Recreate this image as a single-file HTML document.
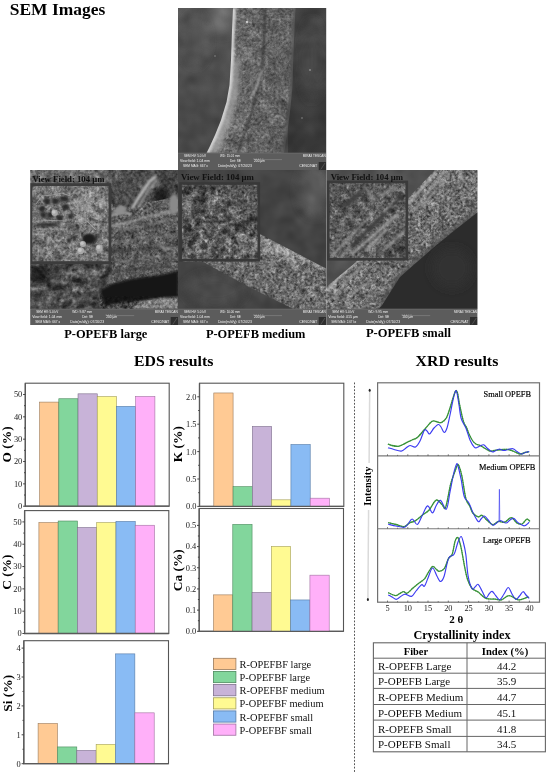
<!DOCTYPE html>
<html><head><meta charset="utf-8"><title>SEM, EDS and XRD results</title>
<style>html,body{margin:0;padding:0;background:#fff;}body{width:550px;height:777px;overflow:hidden;}svg{display:block;font-family:"Liberation Serif", "Times New Roman", serif;}</style>
</head><body>
<svg width="550" height="777" viewBox="0 0 550 777">
<defs></defs>

<text x="9.8" y="15.3" font-size="17.5" font-weight="bold" textLength="95.4" lengthAdjust="spacingAndGlyphs" fill="#000">SEM Images</text>
<defs>
<filter id="grain" x="0" y="0" width="1" height="1" color-interpolation-filters="sRGB">
<feTurbulence type="fractalNoise" baseFrequency="0.33" numOctaves="3" seed="7"/>
<feColorMatrix type="matrix" values="0.33 0.33 0.33 0 0  0.33 0.33 0.33 0 0  0.33 0.33 0.33 0 0  0 0 0 0 1"/>
<feComponentTransfer><feFuncR type="linear" slope="2.0" intercept="-0.5"/><feFuncG type="linear" slope="2.0" intercept="-0.5"/><feFuncB type="linear" slope="2.0" intercept="-0.5"/></feComponentTransfer>
</filter>
<filter id="grain2" x="0" y="0" width="1" height="1" color-interpolation-filters="sRGB">
<feTurbulence type="fractalNoise" baseFrequency="0.38" numOctaves="3" seed="11"/>
<feColorMatrix type="matrix" values="0.33 0.33 0.33 0 0  0.33 0.33 0.33 0 0  0.33 0.33 0.33 0 0  0 0 0 0 1"/>
<feComponentTransfer><feFuncR type="linear" slope="2.2" intercept="-0.6"/><feFuncG type="linear" slope="2.2" intercept="-0.6"/><feFuncB type="linear" slope="2.2" intercept="-0.6"/></feComponentTransfer>
</filter>
<filter id="mottle" x="0" y="0" width="1" height="1" color-interpolation-filters="sRGB">
<feTurbulence type="fractalNoise" baseFrequency="0.13" numOctaves="3" seed="21"/>
<feColorMatrix type="matrix" values="0.33 0.33 0.33 0 0  0.33 0.33 0.33 0 0  0.33 0.33 0.33 0 0  0 0 0 0 1"/>
<feComponentTransfer><feFuncR type="linear" slope="2.6" intercept="-0.8"/><feFuncG type="linear" slope="2.6" intercept="-0.8"/><feFuncB type="linear" slope="2.6" intercept="-0.8"/></feComponentTransfer>
</filter>
<filter id="smooth" x="0" y="0" width="1" height="1" color-interpolation-filters="sRGB">
<feTurbulence type="fractalNoise" baseFrequency="0.06" numOctaves="2" seed="3"/>
<feColorMatrix type="matrix" values="0.33 0.33 0.33 0 0  0.33 0.33 0.33 0 0  0.33 0.33 0.33 0 0  0 0 0 0 1"/>
</filter>
<filter id="blur1" x="-20%" y="-20%" width="140%" height="140%"><feGaussianBlur stdDeviation="1.0"/></filter>
<filter id="blur2" x="-30%" y="-30%" width="160%" height="160%"><feGaussianBlur stdDeviation="2.5"/></filter>
<filter id="blur4" x="-50%" y="-50%" width="200%" height="200%"><feGaussianBlur stdDeviation="5"/></filter>
<clipPath id="cTop"><rect x="178" y="8" width="148.2" height="162"/></clipPath>
<clipPath id="cL"><rect x="30.2" y="170" width="147.8" height="155"/></clipPath>
<clipPath id="cM"><rect x="178" y="170" width="148.2" height="155"/></clipPath>
<clipPath id="cR"><rect x="326.2" y="170" width="151.3" height="155"/></clipPath>
<clipPath id="cTopFib"><path d="M233,8 L232,30 L231,60 L229.5,85 L226.5,102 L221,120 L215,135 L210,146 L206.5,153 L284,153 L287,135 L290,112 L292.4,88 L294,40 L295.5,8 Z"/></clipPath>
<clipPath id="cLBand"><path d="M111,204 L128,207 L140,204 L160,200 L178,196 L178,274 L160,276 L132,278 L111,284 Z"/></clipPath>
<clipPath id="cLLow"><rect x="30" y="262" width="82" height="47"/></clipPath>
<clipPath id="cLIn"><rect x="30.9" y="184.6" width="79" height="78"/></clipPath>
<clipPath id="cMIn"><rect x="180.6" y="183.5" width="78.2" height="76.8"/></clipPath>
<clipPath id="cRIn"><rect x="328.2" y="181.9" width="78.6" height="77.4"/></clipPath>
<clipPath id="cMBand"><path d="M260.9,234.4 L326,268.5 L326,309 L293.6,309.3 L250,287.5 L202.7,262 L180,262 L180,230 Z"/></clipPath>
<clipPath id="cRBand"><path d="M434.9,170 L478,170 L478,212 L455,230 L433,248 L400,277 L381.6,306 L378,309 L326,309 L326,287 L355.5,262.5 L407.3,199 Z"/></clipPath>
<linearGradient id="gTopBgL" x1="0" y1="0" x2="0" y2="1"><stop offset="0" stop-color="#535353"/><stop offset="0.6" stop-color="#4a4a4a"/><stop offset="1" stop-color="#444"/></linearGradient>
<linearGradient id="gTopBgR" x1="0" y1="0" x2="0" y2="1"><stop offset="0" stop-color="#424242"/><stop offset="1" stop-color="#363636"/></linearGradient>
<linearGradient id="gFib" x1="0" y1="0" x2="1" y2="0"><stop offset="0" stop-color="#808080"/><stop offset="0.3" stop-color="#6c6c6c"/><stop offset="1" stop-color="#5e5e5e"/></linearGradient>
<linearGradient id="gRBand" x1="0" y1="0" x2="1" y2="1"><stop offset="0" stop-color="#7c7c7c"/><stop offset="1" stop-color="#666"/></linearGradient>
</defs>
<g clip-path="url(#cTop)">
<rect x="178" y="8" width="148.2" height="162" fill="url(#gTopBgL)"/>
<rect x="288" y="8" width="40" height="162" fill="url(#gTopBgR)"/>
<ellipse cx="222" cy="16" rx="12" ry="18" fill="#6a6a6a" filter="url(#blur4)"/>
<ellipse cx="195" cy="40" rx="12" ry="25" fill="#575757" filter="url(#blur4)"/>
<ellipse cx="312" cy="60" rx="10" ry="40" fill="#474747" filter="url(#blur4)"/>
<g clip-path="url(#cTopFib)">
<path d="M233,8 L232,30 L231,60 L229.5,85 L226.5,102 L221,120 L215,135 L210,146 L206.5,153 L284,153 L287,135 L290,112 L292.4,88 L294,40 L295.5,8 Z" fill="url(#gFib)"/>
<rect x="178" y="8" width="148.2" height="145" filter="url(#grain2)" opacity="0.35" style="mix-blend-mode:overlay"/>
<rect x="178" y="8" width="148.2" height="145" filter="url(#mottle)" opacity="0.18" style="mix-blend-mode:overlay"/>
<path d="M237,60 L235,90 L231,108 L225,124 L219,140 L213,153" fill="none" stroke="#9c9c9c" stroke-width="7" filter="url(#blur2)"/>
<path d="M233,8 L232,30 L231,60 L229.5,85 L226.5,102 L221,120 L215,135 L210,146 L206.5,153" fill="none" stroke="#cfcfcf" stroke-width="6" filter="url(#blur1)"/>
<path d="M284,153 L287,135 L290,112 L292.4,88 L294,40 L295.5,8" fill="none" stroke="#555" stroke-width="5" filter="url(#blur1)"/>
<path d="M265,8 L264,40 L262,66 L259,86 L255,100 L250,118 L244,135 L238,152" fill="none" stroke="#2e2e2e" stroke-width="1.6" filter="url(#blur1)"/>
<path d="M262,70 L257,86 L252,96" fill="none" stroke="#b4b4b4" stroke-width="1.6" filter="url(#blur1)"/>
<circle cx="247" cy="22" r="1.3" fill="#c8c8c8"/>
</g>
<rect x="178" y="8" width="148.2" height="145" filter="url(#smooth)" opacity="0.35" style="mix-blend-mode:overlay"/>
<circle cx="215" cy="56" r="0.8" fill="#888"/>
<circle cx="310" cy="70" r="1.0" fill="#888"/>
<circle cx="302" cy="118" r="0.8" fill="#888"/>
<rect x="178" y="152.8" width="148.2" height="17.2" fill="#5c5c5c"/>
<rect x="178" y="152.8" width="148.2" height="0.7" fill="#6c6c6c"/>
<rect x="318.7" y="162.0" width="7.5" height="8" fill="#2e2e2e"/>
<line x1="320.7" y1="169.5" x2="325.0" y2="163.0" stroke="#777" stroke-width="0.5"/>
<text x="184.0" y="157.1" font-size="3.4" fill="#f0f0f0" font-family="Liberation Sans, sans-serif" textLength="22" lengthAdjust="spacingAndGlyphs">SEM HV: 5.0 kV</text>
<text x="220.0" y="157.1" font-size="3.4" fill="#f0f0f0" font-family="Liberation Sans, sans-serif" textLength="20" lengthAdjust="spacingAndGlyphs">WD: 15.01 mm</text>
<text x="325.7" y="157.1" font-size="3.4" fill="#f0f0f0" font-family="Liberation Sans, sans-serif" text-anchor="end" textLength="23" lengthAdjust="spacingAndGlyphs">MIRA3 TESCAN</text>
<text x="180.0" y="162.1" font-size="3.4" fill="#f0f0f0" font-family="Liberation Sans, sans-serif" textLength="30" lengthAdjust="spacingAndGlyphs">View field: 1.04 mm</text>
<text x="230.0" y="162.1" font-size="3.4" fill="#f0f0f0" font-family="Liberation Sans, sans-serif" textLength="11" lengthAdjust="spacingAndGlyphs">Det: SE</text>
<text x="254.0" y="162.1" font-size="3.4" fill="#f0f0f0" font-family="Liberation Sans, sans-serif" textLength="11" lengthAdjust="spacingAndGlyphs">200 μm</text>
<text x="183.0" y="167.1" font-size="3.4" fill="#f0f0f0" font-family="Liberation Sans, sans-serif" textLength="25" lengthAdjust="spacingAndGlyphs">SEM MAG: 667 x</text>
<text x="218.0" y="167.1" font-size="3.4" fill="#f0f0f0" font-family="Liberation Sans, sans-serif" textLength="34" lengthAdjust="spacingAndGlyphs">Date(m/d/y): 07/20/23</text>
<text x="317.2" y="167.1" font-size="3.4" fill="#f0f0f0" font-family="Liberation Sans, sans-serif" text-anchor="end" textLength="18" lengthAdjust="spacingAndGlyphs">CENC/NAT</text>
<line x1="254.0" y1="158.4" x2="254.0" y2="159.60000000000002" stroke="#e0e0e0" stroke-width="0.4"/>
<line x1="256.2" y1="158.4" x2="256.2" y2="159.60000000000002" stroke="#e0e0e0" stroke-width="0.4"/>
<line x1="258.4" y1="158.4" x2="258.4" y2="159.60000000000002" stroke="#e0e0e0" stroke-width="0.4"/>
<line x1="260.6" y1="158.4" x2="260.6" y2="159.60000000000002" stroke="#e0e0e0" stroke-width="0.4"/>
<line x1="262.8" y1="158.4" x2="262.8" y2="159.60000000000002" stroke="#e0e0e0" stroke-width="0.4"/>
<line x1="254" y1="159.60000000000002" x2="282" y2="159.60000000000002" stroke="#bbb" stroke-width="0.3"/>
</g>
<g clip-path="url(#cL)">
<rect x="30.2" y="170" width="148" height="155" fill="#474747"/>
<rect x="30.2" y="170" width="82" height="14" fill="#6a6a6a"/>
<ellipse cx="120" cy="178" rx="12" ry="9" fill="#585858" filter="url(#blur4)"/>
<ellipse cx="162" cy="200" rx="8" ry="12" fill="#1a1a1a" filter="url(#blur2)"/>
<rect x="30.2" y="170" width="148" height="139" filter="url(#grain)" opacity="0.45" style="mix-blend-mode:overlay"/>
<rect x="30.2" y="170" width="148" height="139" filter="url(#mottle)" opacity="0.3" style="mix-blend-mode:overlay"/>
<g clip-path="url(#cLBand)">
<path d="M111,204 L128,207 L140,204 L160,200 L178,196 L178,274 L160,276 L132,278 L111,284 Z" fill="#5a5a5a"/>
<rect x="30" y="170" width="148" height="140" filter="url(#mottle)" opacity="0.3" style="mix-blend-mode:overlay"/>
<rect x="30" y="170" width="148" height="140" filter="url(#grain2)" opacity="0.5" style="mix-blend-mode:overlay"/>
<g filter="url(#blur1)" fill="none" stroke-linecap="round">
<path d="M111,226 L130,222 L150,216 L178,210" stroke="#b0b0b0" stroke-width="1.8"/>
<path d="M111,231 L140,226 L178,219" stroke="#8a8a8a" stroke-width="1.2"/>
<path d="M111,216 L122,212 L130,214" stroke="#a0a0a0" stroke-width="2.5"/>
<path d="M114,243 L150,238 L176,234" stroke="#7c7c7c" stroke-width="1.2"/>
<path d="M112,252 L140,249 L172,246" stroke="#383838" stroke-width="1.5"/>
<path d="M116,262 L150,258 L176,256" stroke="#7a7a7a" stroke-width="1.2"/>
<path d="M160,245 L166,250 L170,248" stroke="#9a9a9a" stroke-width="2"/>
<path d="M112,272 L140,268 L170,266" stroke="#3a3a3a" stroke-width="1.5"/>
</g>
</g>
<g clip-path="url(#cLLow)">
<rect x="30" y="262" width="82" height="48" fill="#474747"/>
<path d="M30,266 L52,266 L46,282 L30,280 Z" fill="#222" filter="url(#blur2)"/>
<path d="M30,286 L100,289 L100,292 L30,290 Z" fill="#6a6a6a" filter="url(#blur1)"/>
<path d="M40,296 L100,300 L100,302 L40,299 Z" fill="#626262" filter="url(#blur1)"/>
<path d="M60,272 L90,268 L108,274 L80,280 Z" fill="#5e5e5e" filter="url(#blur1)"/>
<rect x="30" y="262" width="82" height="48" filter="url(#mottle)" opacity="0.6" style="mix-blend-mode:overlay"/>
<rect x="30" y="262" width="82" height="48" filter="url(#grain)" opacity="0.4" style="mix-blend-mode:overlay"/>
</g>
<g filter="url(#blur1)" fill="none" stroke-linecap="round">
<path d="M133,207 L139,197 L145,188 L150,181 L155,177" stroke="#b8b8b8" stroke-width="3.2"/>
<path d="M139,206 L145,196 L151,187 L157,180" stroke="#a0a0a0" stroke-width="2"/>
<path d="M146,190 L138,184 M150,184 L144,178 M152,188 L160,184 M128,204 L124,196 M134,200 L128,193" stroke="#9a9a9a" stroke-width="1.1"/>
<path d="M114,212 L120,206 L126,208 L122,214 Z" stroke="#8e8e8e" stroke-width="2" fill="#8e8e8e"/>
</g>
<ellipse cx="174" cy="204" rx="5" ry="10" fill="#8a8a8a" filter="url(#blur1)"/>
<path d="M100,290 L112,284 L132,279 L160,275 L178,271 L178,300 L160,299 L140,301 L120,303 L104,306 Z" fill="#141414" filter="url(#blur1)"/>
<path d="M140,302 L160,298 L178,297 L178,309 L132,309 Z" fill="#858585" filter="url(#blur1)"/>
<rect x="100" y="296" width="78" height="13" filter="url(#grain)" opacity="0.5" style="mix-blend-mode:overlay"/>
<g clip-path="url(#cLIn)">
<rect x="30.9" y="184.6" width="79" height="78" fill="#747474"/>
<ellipse cx="90" cy="205" rx="18" ry="14" fill="#8c8c8c" filter="url(#blur4)"/>
<rect x="30.9" y="184.6" width="79" height="78" filter="url(#mottle)" opacity="0.4" style="mix-blend-mode:overlay"/>
<rect x="30.9" y="184.6" width="79" height="78" filter="url(#grain2)" opacity="0.4" style="mix-blend-mode:overlay"/>
<g filter="url(#blur1)">
<ellipse cx="47.1" cy="201.6" rx="3.5" ry="3.5" fill="#2c2c2c"/>
<ellipse cx="55.3" cy="200.9" rx="3.2" ry="3.2" fill="#2c2c2c"/>
<ellipse cx="64.3" cy="198.7" rx="4.5" ry="2.7" fill="#2c2c2c"/>
<ellipse cx="65.8" cy="206.9" rx="3.2" ry="3" fill="#2c2c2c"/>
<ellipse cx="41.9" cy="209.1" rx="3" ry="3" fill="#2c2c2c"/>
<ellipse cx="43.4" cy="215" rx="3" ry="3" fill="#2c2c2c"/>
<ellipse cx="50.9" cy="215" rx="3" ry="3" fill="#2c2c2c"/>
<ellipse cx="59.8" cy="218" rx="3.2" ry="3" fill="#2c2c2c"/>
<ellipse cx="70.3" cy="216.5" rx="2.5" ry="2.5" fill="#2c2c2c"/>
<ellipse cx="48" cy="224.7" rx="11" ry="1.8" fill="#2c2c2c"/>
<ellipse cx="68.8" cy="240.4" rx="2.5" ry="2.5" fill="#2c2c2c"/>
<ellipse cx="74.7" cy="237.4" rx="2" ry="2" fill="#2c2c2c"/>
<ellipse cx="88.9" cy="238.9" rx="6.7" ry="5.4" fill="#1a1a1a"/>
</g>
<path d="M36,204 L42,196 L52,195 L62,193 L70,196 M38,220 L66,221 M36,229 L64,229 M74,213 L88,222 L96,230" fill="none" stroke="#a8a8a8" stroke-width="1" opacity="0.7"/>
<circle cx="54.6" cy="212.8" r="3.2" fill="#a8a8a8"/>
<circle cx="53.800000000000004" cy="212.0" r="1.8" fill="#c4c4c4"/>
<circle cx="82.9" cy="244.1" r="3.0" fill="#a8a8a8"/>
<circle cx="82.10000000000001" cy="243.29999999999998" r="1.7" fill="#c4c4c4"/>
<circle cx="80.7" cy="250.8" r="3.4" fill="#a8a8a8"/>
<circle cx="79.9" cy="250.0" r="1.9" fill="#c4c4c4"/>
<circle cx="99.3" cy="247.9" r="3.4" fill="#a8a8a8"/>
<circle cx="98.5" cy="247.1" r="1.9" fill="#c4c4c4"/>
</g>
<rect x="30.9" y="184.6" width="79" height="78" fill="none" stroke="#3c3c3c" stroke-width="2.8"/>
<rect x="30.2" y="308.8" width="148" height="16.2" fill="#5c5c5c"/>
<rect x="30.2" y="308.8" width="148" height="0.7" fill="#6c6c6c"/>
<rect x="170.7" y="317.0" width="7.5" height="8" fill="#2e2e2e"/>
<line x1="172.7" y1="324.5" x2="177.0" y2="318.0" stroke="#777" stroke-width="0.5"/>
<text x="36.2" y="313.1" font-size="3.4" fill="#f0f0f0" font-family="Liberation Sans, sans-serif" textLength="22" lengthAdjust="spacingAndGlyphs">SEM HV: 5.0 kV</text>
<text x="72.2" y="313.1" font-size="3.4" fill="#f0f0f0" font-family="Liberation Sans, sans-serif" textLength="20" lengthAdjust="spacingAndGlyphs">WD: 9.87 mm</text>
<text x="177.7" y="313.1" font-size="3.4" fill="#f0f0f0" font-family="Liberation Sans, sans-serif" text-anchor="end" textLength="23" lengthAdjust="spacingAndGlyphs">MIRA3 TESCAN</text>
<text x="32.2" y="318.1" font-size="3.4" fill="#f0f0f0" font-family="Liberation Sans, sans-serif" textLength="30" lengthAdjust="spacingAndGlyphs">View field: 1.04 mm</text>
<text x="82.2" y="318.1" font-size="3.4" fill="#f0f0f0" font-family="Liberation Sans, sans-serif" textLength="11" lengthAdjust="spacingAndGlyphs">Det: SE</text>
<text x="106.2" y="318.1" font-size="3.4" fill="#f0f0f0" font-family="Liberation Sans, sans-serif" textLength="11" lengthAdjust="spacingAndGlyphs">200 μm</text>
<text x="35.2" y="323.1" font-size="3.4" fill="#f0f0f0" font-family="Liberation Sans, sans-serif" textLength="25" lengthAdjust="spacingAndGlyphs">SEM MAG: 667 x</text>
<text x="70.2" y="323.1" font-size="3.4" fill="#f0f0f0" font-family="Liberation Sans, sans-serif" textLength="34" lengthAdjust="spacingAndGlyphs">Date(m/d/y): 07/20/23</text>
<text x="169.2" y="323.1" font-size="3.4" fill="#f0f0f0" font-family="Liberation Sans, sans-serif" text-anchor="end" textLength="18" lengthAdjust="spacingAndGlyphs">CENC/NAT</text>
<line x1="106.2" y1="314.40000000000003" x2="106.2" y2="315.6" stroke="#e0e0e0" stroke-width="0.4"/>
<line x1="108.4" y1="314.40000000000003" x2="108.4" y2="315.6" stroke="#e0e0e0" stroke-width="0.4"/>
<line x1="110.6" y1="314.40000000000003" x2="110.6" y2="315.6" stroke="#e0e0e0" stroke-width="0.4"/>
<line x1="112.8" y1="314.40000000000003" x2="112.8" y2="315.6" stroke="#e0e0e0" stroke-width="0.4"/>
<line x1="115.0" y1="314.40000000000003" x2="115.0" y2="315.6" stroke="#e0e0e0" stroke-width="0.4"/>
<line x1="106.2" y1="315.6" x2="134.2" y2="315.6" stroke="#bbb" stroke-width="0.3"/>
</g>
<text x="32.4" y="181.8" font-size="8.2" font-weight="bold" textLength="72" lengthAdjust="spacingAndGlyphs" fill="#111">View Field: 104 μm</text>
<g clip-path="url(#cM)">
<rect x="178" y="170" width="148.2" height="155" fill="#434343"/>
<ellipse cx="315" cy="190" rx="16" ry="26" fill="#5a5a5a" filter="url(#blur4)"/>
<ellipse cx="215" cy="290" rx="30" ry="16" fill="#4a4a4a" filter="url(#blur4)"/>
<rect x="178" y="170" width="148.2" height="140" filter="url(#smooth)" opacity="0.35" style="mix-blend-mode:overlay"/>
<g clip-path="url(#cMBand)">
<path d="M260.9,234.4 L326,268.5 L326,309 L293.6,309.3 L250,287.5 L202.7,262 L180,262 L180,230 Z" fill="#6c6c6c"/>
<path d="M262,236 L300,254 L296,266 L266,252 Z" fill="#9a9a9a" filter="url(#blur2)"/>
<path d="M205,262 L250,286 L294,309 L290,311 L248,290 L203,265 Z" fill="#5c5c5c" filter="url(#blur1)"/>
<path d="M262,236 L326,268 L326,272 L262,240 Z" fill="#959595" filter="url(#blur1)"/>
<rect x="178" y="170" width="148.2" height="140" filter="url(#mottle)" opacity="0.3" style="mix-blend-mode:overlay"/>
<rect x="178" y="170" width="148.2" height="140" filter="url(#grain2)" opacity="0.5" style="mix-blend-mode:overlay"/>
</g>
<g clip-path="url(#cMIn)">
<rect x="180.6" y="183.5" width="78.2" height="76.8" fill="#5a5a5a"/>
<g filter="url(#blur1)">
<ellipse cx="199.7" cy="192.5" rx="2.7" ry="2.2" fill="#404040"/>
<ellipse cx="188.8" cy="186.4" rx="3.1" ry="2.5" fill="#7a7a7a"/>
<ellipse cx="242.0" cy="240.9" rx="2.2" ry="1.7" fill="#2e2e2e"/>
<ellipse cx="209.0" cy="241.9" rx="4.0" ry="3.2" fill="#7a7a7a"/>
<ellipse cx="198.1" cy="252.7" rx="4.0" ry="3.2" fill="#7a7a7a"/>
<ellipse cx="242.0" cy="199.1" rx="2.4" ry="1.9" fill="#7a7a7a"/>
<ellipse cx="188.5" cy="229.2" rx="3.5" ry="2.8" fill="#2e2e2e"/>
<ellipse cx="200.7" cy="203.1" rx="2.3" ry="1.9" fill="#2e2e2e"/>
<ellipse cx="245.0" cy="185.5" rx="2.4" ry="1.9" fill="#7a7a7a"/>
<ellipse cx="245.6" cy="222.1" rx="2.7" ry="2.2" fill="#2e2e2e"/>
<ellipse cx="203.6" cy="218.0" rx="2.2" ry="1.8" fill="#7a7a7a"/>
<ellipse cx="242.9" cy="188.2" rx="1.6" ry="1.3" fill="#7a7a7a"/>
<ellipse cx="220.9" cy="232.3" rx="3.6" ry="2.9" fill="#404040"/>
<ellipse cx="256.8" cy="199.3" rx="2.7" ry="2.2" fill="#404040"/>
<ellipse cx="229.6" cy="217.2" rx="2.1" ry="1.6" fill="#848484"/>
<ellipse cx="238.0" cy="208.4" rx="3.2" ry="2.5" fill="#7a7a7a"/>
<ellipse cx="189.6" cy="189.5" rx="2.2" ry="1.7" fill="#2e2e2e"/>
<ellipse cx="228.2" cy="202.3" rx="2.5" ry="2.0" fill="#404040"/>
<ellipse cx="203.8" cy="186.9" rx="2.6" ry="2.1" fill="#363636"/>
<ellipse cx="249.2" cy="254.7" rx="3.7" ry="3.0" fill="#7a7a7a"/>
<ellipse cx="183.4" cy="206.1" rx="4.4" ry="3.5" fill="#848484"/>
<ellipse cx="246.6" cy="248.5" rx="3.5" ry="2.8" fill="#363636"/>
<ellipse cx="204.0" cy="199.0" rx="2.8" ry="2.3" fill="#404040"/>
<ellipse cx="200.8" cy="228.7" rx="2.0" ry="1.6" fill="#2e2e2e"/>
<ellipse cx="182.7" cy="188.3" rx="2.0" ry="1.6" fill="#7a7a7a"/>
<ellipse cx="256.8" cy="226.7" rx="2.8" ry="2.3" fill="#404040"/>
<ellipse cx="213.8" cy="200.2" rx="1.7" ry="1.3" fill="#363636"/>
<ellipse cx="237.3" cy="228.5" rx="4.4" ry="3.5" fill="#2e2e2e"/>
<ellipse cx="185.1" cy="220.8" rx="2.2" ry="1.8" fill="#363636"/>
<ellipse cx="191.2" cy="223.6" rx="3.8" ry="3.1" fill="#848484"/>
<ellipse cx="230.9" cy="199.6" rx="2.1" ry="1.7" fill="#848484"/>
<ellipse cx="212.8" cy="187.7" rx="2.8" ry="2.2" fill="#404040"/>
<ellipse cx="230.6" cy="216.2" rx="2.1" ry="1.7" fill="#404040"/>
<ellipse cx="184.4" cy="203.6" rx="2.2" ry="1.8" fill="#404040"/>
<ellipse cx="239.9" cy="215.5" rx="2.3" ry="1.8" fill="#7a7a7a"/>
<ellipse cx="185.8" cy="252.7" rx="3.2" ry="2.6" fill="#2e2e2e"/>
<ellipse cx="212.2" cy="250.8" rx="3.5" ry="2.8" fill="#363636"/>
<ellipse cx="219.1" cy="191.8" rx="2.1" ry="1.7" fill="#2e2e2e"/>
<ellipse cx="249.5" cy="252.5" rx="2.5" ry="2.0" fill="#848484"/>
<ellipse cx="242.0" cy="231.9" rx="3.9" ry="3.2" fill="#2e2e2e"/>
<ellipse cx="198.1" cy="243.5" rx="3.9" ry="3.1" fill="#7a7a7a"/>
<ellipse cx="251.2" cy="254.8" rx="1.7" ry="1.4" fill="#7a7a7a"/>
<ellipse cx="254.1" cy="233.8" rx="1.6" ry="1.3" fill="#2e2e2e"/>
<ellipse cx="191.6" cy="255.7" rx="3.5" ry="2.8" fill="#363636"/>
<ellipse cx="247.3" cy="235.2" rx="2.9" ry="2.3" fill="#848484"/>
<ellipse cx="238.0" cy="252.7" rx="2.2" ry="1.7" fill="#363636"/>
<ellipse cx="197.8" cy="196.4" rx="3.3" ry="2.7" fill="#7a7a7a"/>
<ellipse cx="190.7" cy="244.1" rx="3.8" ry="3.1" fill="#404040"/>
<ellipse cx="223.3" cy="249.1" rx="2.1" ry="1.7" fill="#2e2e2e"/>
<ellipse cx="206.8" cy="250.1" rx="3.8" ry="3.1" fill="#848484"/>
<ellipse cx="250.6" cy="217.1" rx="1.7" ry="1.4" fill="#2e2e2e"/>
<ellipse cx="190.5" cy="225.9" rx="2.3" ry="1.8" fill="#404040"/>
<ellipse cx="185.1" cy="190.8" rx="4.1" ry="3.3" fill="#363636"/>
<ellipse cx="204.3" cy="210.3" rx="1.7" ry="1.4" fill="#2e2e2e"/>
<ellipse cx="216.0" cy="200.0" rx="4.4" ry="3.5" fill="#848484"/>
<ellipse cx="199.5" cy="220.5" rx="4.4" ry="3.5" fill="#363636"/>
<ellipse cx="187.8" cy="251.9" rx="3.9" ry="3.1" fill="#7a7a7a"/>
<ellipse cx="220.4" cy="216.7" rx="4.1" ry="3.3" fill="#848484"/>
<ellipse cx="187.0" cy="249.3" rx="2.1" ry="1.7" fill="#7a7a7a"/>
<ellipse cx="251.7" cy="219.9" rx="1.9" ry="1.5" fill="#2e2e2e"/>
<ellipse cx="194.6" cy="248.8" rx="2.0" ry="1.6" fill="#404040"/>
<ellipse cx="206.5" cy="247.8" rx="2.3" ry="1.8" fill="#363636"/>
<ellipse cx="235.3" cy="185.4" rx="2.4" ry="1.9" fill="#2e2e2e"/>
<ellipse cx="190.3" cy="242.4" rx="3.3" ry="2.6" fill="#2e2e2e"/>
<ellipse cx="187.7" cy="202.9" rx="4.0" ry="3.2" fill="#7a7a7a"/>
<ellipse cx="199.2" cy="198.2" rx="4.1" ry="3.3" fill="#363636"/>
<ellipse cx="232.8" cy="229.5" rx="2.4" ry="2.0" fill="#848484"/>
<ellipse cx="240.7" cy="226.5" rx="4.3" ry="3.4" fill="#2e2e2e"/>
<ellipse cx="241.0" cy="229.7" rx="2.8" ry="2.3" fill="#404040"/>
<ellipse cx="200.9" cy="228.6" rx="4.5" ry="3.6" fill="#7a7a7a"/>
<path d="M224,240 L240,232 L256,236 L258,258 L228,258 Z" fill="#6e6e6e"/>
</g>
<rect x="180.6" y="183.5" width="78.2" height="76.8" filter="url(#mottle)" opacity="0.55" style="mix-blend-mode:overlay"/>
<rect x="180.6" y="183.5" width="78.2" height="76.8" filter="url(#grain2)" opacity="0.5" style="mix-blend-mode:overlay"/>
</g>
<rect x="180.6" y="183.5" width="78.2" height="76.8" fill="none" stroke="#383838" stroke-width="2.6"/>
<rect x="178" y="308.8" width="148.2" height="16.2" fill="#5c5c5c"/>
<rect x="178" y="308.8" width="148.2" height="0.7" fill="#6c6c6c"/>
<rect x="318.7" y="317.0" width="7.5" height="8" fill="#2e2e2e"/>
<line x1="320.7" y1="324.5" x2="325.0" y2="318.0" stroke="#777" stroke-width="0.5"/>
<text x="184.0" y="313.1" font-size="3.4" fill="#f0f0f0" font-family="Liberation Sans, sans-serif" textLength="22" lengthAdjust="spacingAndGlyphs">SEM HV: 5.0 kV</text>
<text x="220.0" y="313.1" font-size="3.4" fill="#f0f0f0" font-family="Liberation Sans, sans-serif" textLength="20" lengthAdjust="spacingAndGlyphs">WD: 10.00 mm</text>
<text x="325.7" y="313.1" font-size="3.4" fill="#f0f0f0" font-family="Liberation Sans, sans-serif" text-anchor="end" textLength="23" lengthAdjust="spacingAndGlyphs">MIRA3 TESCAN</text>
<text x="180.0" y="318.1" font-size="3.4" fill="#f0f0f0" font-family="Liberation Sans, sans-serif" textLength="30" lengthAdjust="spacingAndGlyphs">View field: 1.04 mm</text>
<text x="230.0" y="318.1" font-size="3.4" fill="#f0f0f0" font-family="Liberation Sans, sans-serif" textLength="11" lengthAdjust="spacingAndGlyphs">Det: SE</text>
<text x="254.0" y="318.1" font-size="3.4" fill="#f0f0f0" font-family="Liberation Sans, sans-serif" textLength="11" lengthAdjust="spacingAndGlyphs">200 μm</text>
<text x="183.0" y="323.1" font-size="3.4" fill="#f0f0f0" font-family="Liberation Sans, sans-serif" textLength="25" lengthAdjust="spacingAndGlyphs">SEM MAG: 667 x</text>
<text x="218.0" y="323.1" font-size="3.4" fill="#f0f0f0" font-family="Liberation Sans, sans-serif" textLength="34" lengthAdjust="spacingAndGlyphs">Date(m/d/y): 07/20/23</text>
<text x="317.2" y="323.1" font-size="3.4" fill="#f0f0f0" font-family="Liberation Sans, sans-serif" text-anchor="end" textLength="18" lengthAdjust="spacingAndGlyphs">CENC/NAT</text>
<line x1="254.0" y1="314.40000000000003" x2="254.0" y2="315.6" stroke="#e0e0e0" stroke-width="0.4"/>
<line x1="256.2" y1="314.40000000000003" x2="256.2" y2="315.6" stroke="#e0e0e0" stroke-width="0.4"/>
<line x1="258.4" y1="314.40000000000003" x2="258.4" y2="315.6" stroke="#e0e0e0" stroke-width="0.4"/>
<line x1="260.6" y1="314.40000000000003" x2="260.6" y2="315.6" stroke="#e0e0e0" stroke-width="0.4"/>
<line x1="262.8" y1="314.40000000000003" x2="262.8" y2="315.6" stroke="#e0e0e0" stroke-width="0.4"/>
<line x1="254" y1="315.6" x2="282" y2="315.6" stroke="#bbb" stroke-width="0.3"/>
</g>
<text x="181" y="179.5" font-size="8.2" font-weight="bold" textLength="72.8" lengthAdjust="spacingAndGlyphs" fill="#111">View Field: 104 μm</text>
<g clip-path="url(#cR)">
<rect x="326.2" y="170" width="151.3" height="155" fill="#505050"/>
<rect x="326.2" y="170" width="151.3" height="140" filter="url(#smooth)" opacity="0.35" style="mix-blend-mode:overlay"/>
<g clip-path="url(#cRBand)">
<path d="M434.9,170 L478,170 L478,212 L455,230 L433,248 L400,277 L381.6,306 L378,309 L326,309 L326,287 L355.5,262.5 L407.3,199 Z" fill="url(#gRBand)"/>
<rect x="326" y="170" width="152" height="140" filter="url(#mottle)" opacity="0.3" style="mix-blend-mode:overlay"/>
<rect x="326" y="170" width="152" height="140" filter="url(#grain2)" opacity="0.55" style="mix-blend-mode:overlay"/>
<path d="M478,212 L433,248 L400,277 L381,306" fill="none" stroke="#505050" stroke-width="5" filter="url(#blur2)"/>
<g filter="url(#blur1)" fill="none" stroke-linecap="round">
<path d="M436,172 L420,190 L409,203" stroke="#b4b4b4" stroke-width="2.2"/>
<path d="M444,172 L428,192 L414,210" stroke="#a8a8a8" stroke-width="1.5"/>
<path d="M452,170 L436,190 L422,206" stroke="#a0a0a0" stroke-width="1.2"/>
<path d="M460,172 L462,180" stroke="#c0c0c0" stroke-width="2"/>
<path d="M356,262 L340,276 L328,290" stroke="#b8b8b8" stroke-width="2.4"/>
<path d="M362,266 L346,282 L334,298" stroke="#a4a4a4" stroke-width="1.5"/>
<path d="M345,300 L360,288 L372,280" stroke="#a0a0a0" stroke-width="1.2"/>
</g>
</g>
<path d="M478,212 L455,230 L433,248 L400,277 L381.6,306 L378,309 L478,309 Z" fill="#2c2c2c"/>
<ellipse cx="452" cy="268" rx="20" ry="20" fill="#333" filter="url(#blur4)"/>
<g clip-path="url(#cRIn)">
<rect x="328.2" y="181.9" width="78.6" height="77.4" fill="#5e5e5e"/>
<path d="M380,259 L407,232 L407,259 Z" fill="#4a4a4a" filter="url(#blur2)"/>
<ellipse cx="345" cy="200" rx="12" ry="10" fill="#505050" filter="url(#blur4)"/>
<rect x="328.2" y="181.9" width="78.6" height="77.4" filter="url(#mottle)" opacity="0.4" style="mix-blend-mode:overlay"/>
<rect x="328.2" y="181.9" width="78.6" height="77.4" filter="url(#grain2)" opacity="0.45" style="mix-blend-mode:overlay"/>
<g filter="url(#blur1)" fill="none" stroke-linecap="round">
<line x1="332" y1="256" x2="372" y2="214" stroke="#a4a4a4" stroke-width="1.6"/>
<line x1="340" y1="258" x2="392" y2="204" stroke="#9c9c9c" stroke-width="1.4"/>
<line x1="352" y1="254" x2="398" y2="214" stroke="#b0b0b0" stroke-width="1.8"/>
<line x1="362" y1="236" x2="384" y2="214" stroke="#3e3e3e" stroke-width="3.5"/>
<line x1="346" y1="205" x2="360" y2="193" stroke="#404040" stroke-width="4"/>
<line x1="366" y1="250" x2="386" y2="230" stroke="#a8a8a8" stroke-width="2.2"/>
<line x1="384" y1="250" x2="404" y2="232" stroke="#aaaaaa" stroke-width="1.6"/>
<line x1="352" y1="246" x2="360" y2="238" stroke="#383838" stroke-width="3.5"/>
<line x1="364" y1="186" x2="374" y2="200" stroke="#9a9a9a" stroke-width="1.4"/>
<line x1="378" y1="196" x2="396" y2="188" stroke="#9a9a9a" stroke-width="1.4"/>
<line x1="392" y1="206" x2="402" y2="196" stroke="#3c3c3c" stroke-width="3"/>
</g>
</g>
<rect x="328.2" y="181.9" width="78.6" height="77.4" fill="none" stroke="#3a3a3a" stroke-width="2.6"/>
<rect x="326.2" y="308.8" width="151.3" height="16.2" fill="#5c5c5c"/>
<rect x="326.2" y="308.8" width="151.3" height="0.7" fill="#6c6c6c"/>
<rect x="470.0" y="317.0" width="7.5" height="8" fill="#2e2e2e"/>
<line x1="472.0" y1="324.5" x2="476.3" y2="318.0" stroke="#777" stroke-width="0.5"/>
<text x="332.2" y="313.1" font-size="3.4" fill="#f0f0f0" font-family="Liberation Sans, sans-serif" textLength="22" lengthAdjust="spacingAndGlyphs">SEM HV: 5.0 kV</text>
<text x="368.2" y="313.1" font-size="3.4" fill="#f0f0f0" font-family="Liberation Sans, sans-serif" textLength="20" lengthAdjust="spacingAndGlyphs">WD: 9.95 mm</text>
<text x="477.0" y="313.1" font-size="3.4" fill="#f0f0f0" font-family="Liberation Sans, sans-serif" text-anchor="end" textLength="23" lengthAdjust="spacingAndGlyphs">MIRA3 TESCAN</text>
<text x="328.2" y="318.1" font-size="3.4" fill="#f0f0f0" font-family="Liberation Sans, sans-serif" textLength="30" lengthAdjust="spacingAndGlyphs">View field: 415 μm</text>
<text x="378.2" y="318.1" font-size="3.4" fill="#f0f0f0" font-family="Liberation Sans, sans-serif" textLength="11" lengthAdjust="spacingAndGlyphs">Det: SE</text>
<text x="402.2" y="318.1" font-size="3.4" fill="#f0f0f0" font-family="Liberation Sans, sans-serif" textLength="11" lengthAdjust="spacingAndGlyphs">100 μm</text>
<text x="331.2" y="323.1" font-size="3.4" fill="#f0f0f0" font-family="Liberation Sans, sans-serif" textLength="25" lengthAdjust="spacingAndGlyphs">SEM MAG: 2.67 kx</text>
<text x="366.2" y="323.1" font-size="3.4" fill="#f0f0f0" font-family="Liberation Sans, sans-serif" textLength="34" lengthAdjust="spacingAndGlyphs">Date(m/d/y): 07/10/23</text>
<text x="468.5" y="323.1" font-size="3.4" fill="#f0f0f0" font-family="Liberation Sans, sans-serif" text-anchor="end" textLength="18" lengthAdjust="spacingAndGlyphs">CENC/NAT</text>
<line x1="402.2" y1="314.40000000000003" x2="402.2" y2="315.6" stroke="#e0e0e0" stroke-width="0.4"/>
<line x1="404.4" y1="314.40000000000003" x2="404.4" y2="315.6" stroke="#e0e0e0" stroke-width="0.4"/>
<line x1="406.6" y1="314.40000000000003" x2="406.6" y2="315.6" stroke="#e0e0e0" stroke-width="0.4"/>
<line x1="408.8" y1="314.40000000000003" x2="408.8" y2="315.6" stroke="#e0e0e0" stroke-width="0.4"/>
<line x1="411.0" y1="314.40000000000003" x2="411.0" y2="315.6" stroke="#e0e0e0" stroke-width="0.4"/>
<line x1="402.2" y1="315.6" x2="430.2" y2="315.6" stroke="#bbb" stroke-width="0.3"/>
</g>
<text x="330.7" y="179.5" font-size="8.2" font-weight="bold" textLength="72.3" lengthAdjust="spacingAndGlyphs" fill="#111">View Field: 104 μm</text>
<text x="64.2" y="338" font-size="13" font-weight="bold" textLength="83.2" lengthAdjust="spacingAndGlyphs" fill="#000">P-OPEFB large</text>
<text x="205.9" y="337.6" font-size="13" font-weight="bold" textLength="99.5" lengthAdjust="spacingAndGlyphs" fill="#000">P-OPEFB medium</text>
<text x="365.9" y="337.4" font-size="13" font-weight="bold" textLength="85.1" lengthAdjust="spacingAndGlyphs" fill="#000">P-OPEFB small</text>
<text x="134" y="366.2" font-size="15" font-weight="bold" textLength="79.4" lengthAdjust="spacingAndGlyphs" fill="#000">EDS results</text>
<text x="415.6" y="366.2" font-size="15" font-weight="bold" textLength="82.7" lengthAdjust="spacingAndGlyphs" fill="#000">XRD results</text>
<rect x="25.3" y="383.2" width="143.89999999999998" height="123.0" fill="#fff" stroke="#555" stroke-width="1.1"/>
<rect x="39.60" y="402.10" width="19.22" height="104.10" fill="#FFCA94" stroke="#9a7a5a" stroke-width="0.6"/>
<rect x="58.82" y="398.74" width="19.22" height="107.46" fill="#82D69C" stroke="#4c8a5e" stroke-width="0.6"/>
<rect x="78.03" y="393.83" width="19.22" height="112.37" fill="#C8B3D8" stroke="#7d6e8c" stroke-width="0.6"/>
<rect x="97.25" y="396.51" width="19.22" height="109.69" fill="#FFFA92" stroke="#a39e5a" stroke-width="0.6"/>
<rect x="116.47" y="406.34" width="19.22" height="99.86" fill="#89BBF4" stroke="#557aa5" stroke-width="0.6"/>
<rect x="135.68" y="396.51" width="19.22" height="109.69" fill="#FFB0F9" stroke="#a070a0" stroke-width="0.6"/>
<path d="M25.3,383.2 V506.2 H169.2" fill="none" stroke="#5a5a5a" stroke-width="1.3"/>
<line x1="23.1" y1="506.20" x2="25.3" y2="506.20" stroke="#444" stroke-width="1"/>
<text x="22.3" y="509.10" font-size="8.4" text-anchor="end" fill="#1a1a1a">0</text>
<line x1="23.1" y1="483.86" x2="25.3" y2="483.86" stroke="#444" stroke-width="1"/>
<text x="22.3" y="486.76" font-size="8.4" text-anchor="end" fill="#1a1a1a">10</text>
<line x1="23.1" y1="461.52" x2="25.3" y2="461.52" stroke="#444" stroke-width="1"/>
<text x="22.3" y="464.42" font-size="8.4" text-anchor="end" fill="#1a1a1a">20</text>
<line x1="23.1" y1="439.18" x2="25.3" y2="439.18" stroke="#444" stroke-width="1"/>
<text x="22.3" y="442.08" font-size="8.4" text-anchor="end" fill="#1a1a1a">30</text>
<line x1="23.1" y1="416.84" x2="25.3" y2="416.84" stroke="#444" stroke-width="1"/>
<text x="22.3" y="419.74" font-size="8.4" text-anchor="end" fill="#1a1a1a">40</text>
<line x1="23.1" y1="394.50" x2="25.3" y2="394.50" stroke="#444" stroke-width="1"/>
<text x="22.3" y="397.40" font-size="8.4" text-anchor="end" fill="#1a1a1a">50</text>
<line x1="24.0" y1="495.03" x2="25.3" y2="495.03" stroke="#444" stroke-width="1"/>
<line x1="24.0" y1="472.69" x2="25.3" y2="472.69" stroke="#444" stroke-width="1"/>
<line x1="24.0" y1="450.35" x2="25.3" y2="450.35" stroke="#444" stroke-width="1"/>
<line x1="24.0" y1="428.01" x2="25.3" y2="428.01" stroke="#444" stroke-width="1"/>
<line x1="24.0" y1="405.67" x2="25.3" y2="405.67" stroke="#444" stroke-width="1"/>
<text transform="translate(10.5,444.4) rotate(-90)" font-size="13.4" font-weight="bold" text-anchor="middle">O (%)</text>
<rect x="199.5" y="383.2" width="144.3" height="123.19999999999999" fill="#fff" stroke="#555" stroke-width="1.1"/>
<rect x="213.80" y="392.96" width="19.28" height="113.44" fill="#FFCA94" stroke="#9a7a5a" stroke-width="0.6"/>
<rect x="233.08" y="486.67" width="19.28" height="19.73" fill="#82D69C" stroke="#4c8a5e" stroke-width="0.6"/>
<rect x="252.37" y="426.39" width="19.28" height="80.01" fill="#C8B3D8" stroke="#7d6e8c" stroke-width="0.6"/>
<rect x="271.65" y="499.82" width="19.28" height="6.58" fill="#FFFA92" stroke="#a39e5a" stroke-width="0.6"/>
<rect x="290.93" y="444.48" width="19.28" height="61.92" fill="#89BBF4" stroke="#557aa5" stroke-width="0.6"/>
<rect x="310.22" y="498.18" width="19.28" height="8.22" fill="#FFB0F9" stroke="#a070a0" stroke-width="0.6"/>
<path d="M199.5,383.2 V506.4 H343.8" fill="none" stroke="#5a5a5a" stroke-width="1.3"/>
<line x1="197.3" y1="506.40" x2="199.5" y2="506.40" stroke="#444" stroke-width="1"/>
<text x="196.5" y="509.30" font-size="8.4" text-anchor="end" fill="#1a1a1a">0.0</text>
<line x1="197.3" y1="479.00" x2="199.5" y2="479.00" stroke="#444" stroke-width="1"/>
<text x="196.5" y="481.90" font-size="8.4" text-anchor="end" fill="#1a1a1a">0.5</text>
<line x1="197.3" y1="451.60" x2="199.5" y2="451.60" stroke="#444" stroke-width="1"/>
<text x="196.5" y="454.50" font-size="8.4" text-anchor="end" fill="#1a1a1a">1.0</text>
<line x1="197.3" y1="424.20" x2="199.5" y2="424.20" stroke="#444" stroke-width="1"/>
<text x="196.5" y="427.10" font-size="8.4" text-anchor="end" fill="#1a1a1a">1.5</text>
<line x1="197.3" y1="396.80" x2="199.5" y2="396.80" stroke="#444" stroke-width="1"/>
<text x="196.5" y="399.70" font-size="8.4" text-anchor="end" fill="#1a1a1a">2.0</text>
<line x1="198.2" y1="492.70" x2="199.5" y2="492.70" stroke="#444" stroke-width="1"/>
<line x1="198.2" y1="465.30" x2="199.5" y2="465.30" stroke="#444" stroke-width="1"/>
<line x1="198.2" y1="437.90" x2="199.5" y2="437.90" stroke="#444" stroke-width="1"/>
<line x1="198.2" y1="410.50" x2="199.5" y2="410.50" stroke="#444" stroke-width="1"/>
<text transform="translate(181.7,444.2) rotate(-90)" font-size="13.4" font-weight="bold" text-anchor="middle">K (%)</text>
<rect x="24.6" y="510.6" width="144.20000000000002" height="122.89999999999998" fill="#fff" stroke="#555" stroke-width="1.1"/>
<rect x="38.90" y="522.57" width="19.27" height="110.93" fill="#FFCA94" stroke="#9a7a5a" stroke-width="0.6"/>
<rect x="58.17" y="521.01" width="19.27" height="112.49" fill="#82D69C" stroke="#4c8a5e" stroke-width="0.6"/>
<rect x="77.43" y="527.48" width="19.27" height="106.02" fill="#C8B3D8" stroke="#7d6e8c" stroke-width="0.6"/>
<rect x="96.70" y="522.57" width="19.27" height="110.93" fill="#FFFA92" stroke="#a39e5a" stroke-width="0.6"/>
<rect x="115.97" y="521.45" width="19.27" height="112.05" fill="#89BBF4" stroke="#557aa5" stroke-width="0.6"/>
<rect x="135.23" y="525.25" width="19.27" height="108.25" fill="#FFB0F9" stroke="#a070a0" stroke-width="0.6"/>
<path d="M24.6,510.6 V633.5 H168.8" fill="none" stroke="#5a5a5a" stroke-width="1.3"/>
<line x1="22.400000000000002" y1="633.50" x2="24.6" y2="633.50" stroke="#444" stroke-width="1"/>
<text x="21.6" y="636.40" font-size="8.4" text-anchor="end" fill="#1a1a1a">0</text>
<line x1="22.400000000000002" y1="611.18" x2="24.6" y2="611.18" stroke="#444" stroke-width="1"/>
<text x="21.6" y="614.08" font-size="8.4" text-anchor="end" fill="#1a1a1a">10</text>
<line x1="22.400000000000002" y1="588.86" x2="24.6" y2="588.86" stroke="#444" stroke-width="1"/>
<text x="21.6" y="591.76" font-size="8.4" text-anchor="end" fill="#1a1a1a">20</text>
<line x1="22.400000000000002" y1="566.54" x2="24.6" y2="566.54" stroke="#444" stroke-width="1"/>
<text x="21.6" y="569.44" font-size="8.4" text-anchor="end" fill="#1a1a1a">30</text>
<line x1="22.400000000000002" y1="544.22" x2="24.6" y2="544.22" stroke="#444" stroke-width="1"/>
<text x="21.6" y="547.12" font-size="8.4" text-anchor="end" fill="#1a1a1a">40</text>
<line x1="22.400000000000002" y1="521.90" x2="24.6" y2="521.90" stroke="#444" stroke-width="1"/>
<text x="21.6" y="524.80" font-size="8.4" text-anchor="end" fill="#1a1a1a">50</text>
<line x1="23.3" y1="622.34" x2="24.6" y2="622.34" stroke="#444" stroke-width="1"/>
<line x1="23.3" y1="600.02" x2="24.6" y2="600.02" stroke="#444" stroke-width="1"/>
<line x1="23.3" y1="577.70" x2="24.6" y2="577.70" stroke="#444" stroke-width="1"/>
<line x1="23.3" y1="555.38" x2="24.6" y2="555.38" stroke="#444" stroke-width="1"/>
<line x1="23.3" y1="533.06" x2="24.6" y2="533.06" stroke="#444" stroke-width="1"/>
<text transform="translate(11.4,572.2) rotate(-90)" font-size="13.4" font-weight="bold" text-anchor="middle">C (%)</text>
<rect x="199.2" y="508.5" width="144.3" height="122.79999999999995" fill="#fff" stroke="#555" stroke-width="1.1"/>
<rect x="213.50" y="594.87" width="19.28" height="36.43" fill="#FFCA94" stroke="#9a7a5a" stroke-width="0.6"/>
<rect x="232.78" y="524.34" width="19.28" height="106.96" fill="#82D69C" stroke="#4c8a5e" stroke-width="0.6"/>
<rect x="252.07" y="592.54" width="19.28" height="38.76" fill="#C8B3D8" stroke="#7d6e8c" stroke-width="0.6"/>
<rect x="271.35" y="546.37" width="19.28" height="84.93" fill="#FFFA92" stroke="#a39e5a" stroke-width="0.6"/>
<rect x="290.63" y="599.95" width="19.28" height="31.35" fill="#89BBF4" stroke="#557aa5" stroke-width="0.6"/>
<rect x="309.92" y="575.17" width="19.28" height="56.13" fill="#FFB0F9" stroke="#a070a0" stroke-width="0.6"/>
<path d="M199.2,508.5 V631.3 H343.5" fill="none" stroke="#5a5a5a" stroke-width="1.3"/>
<line x1="197.0" y1="631.30" x2="199.2" y2="631.30" stroke="#444" stroke-width="1"/>
<text x="196.2" y="634.20" font-size="8.4" text-anchor="end" fill="#1a1a1a">0.0</text>
<line x1="197.0" y1="610.12" x2="199.2" y2="610.12" stroke="#444" stroke-width="1"/>
<text x="196.2" y="613.02" font-size="8.4" text-anchor="end" fill="#1a1a1a">0.1</text>
<line x1="197.0" y1="588.94" x2="199.2" y2="588.94" stroke="#444" stroke-width="1"/>
<text x="196.2" y="591.84" font-size="8.4" text-anchor="end" fill="#1a1a1a">0.2</text>
<line x1="197.0" y1="567.76" x2="199.2" y2="567.76" stroke="#444" stroke-width="1"/>
<text x="196.2" y="570.66" font-size="8.4" text-anchor="end" fill="#1a1a1a">0.3</text>
<line x1="197.0" y1="546.58" x2="199.2" y2="546.58" stroke="#444" stroke-width="1"/>
<text x="196.2" y="549.48" font-size="8.4" text-anchor="end" fill="#1a1a1a">0.4</text>
<line x1="197.0" y1="525.40" x2="199.2" y2="525.40" stroke="#444" stroke-width="1"/>
<text x="196.2" y="528.30" font-size="8.4" text-anchor="end" fill="#1a1a1a">0.5</text>
<line x1="197.89999999999998" y1="620.71" x2="199.2" y2="620.71" stroke="#444" stroke-width="1"/>
<line x1="197.89999999999998" y1="599.53" x2="199.2" y2="599.53" stroke="#444" stroke-width="1"/>
<line x1="197.89999999999998" y1="578.35" x2="199.2" y2="578.35" stroke="#444" stroke-width="1"/>
<line x1="197.89999999999998" y1="557.17" x2="199.2" y2="557.17" stroke="#444" stroke-width="1"/>
<line x1="197.89999999999998" y1="535.99" x2="199.2" y2="535.99" stroke="#444" stroke-width="1"/>
<text transform="translate(181.6,570.2) rotate(-90)" font-size="13.4" font-weight="bold" text-anchor="middle">Ca (%)</text>
<rect x="23.8" y="640.7" width="144.7" height="123.0" fill="#fff" stroke="#555" stroke-width="1.1"/>
<rect x="38.10" y="723.53" width="19.35" height="40.17" fill="#FFCA94" stroke="#9a7a5a" stroke-width="0.6"/>
<rect x="57.45" y="746.94" width="19.35" height="16.76" fill="#82D69C" stroke="#4c8a5e" stroke-width="0.6"/>
<rect x="76.80" y="750.41" width="19.35" height="13.29" fill="#C8B3D8" stroke="#7d6e8c" stroke-width="0.6"/>
<rect x="96.15" y="744.34" width="19.35" height="19.36" fill="#FFFA92" stroke="#a39e5a" stroke-width="0.6"/>
<rect x="115.50" y="653.88" width="19.35" height="109.82" fill="#89BBF4" stroke="#557aa5" stroke-width="0.6"/>
<rect x="134.85" y="712.84" width="19.35" height="50.86" fill="#FFB0F9" stroke="#a070a0" stroke-width="0.6"/>
<path d="M23.8,640.7 V763.7 H168.5" fill="none" stroke="#5a5a5a" stroke-width="1.3"/>
<line x1="21.6" y1="763.70" x2="23.8" y2="763.70" stroke="#444" stroke-width="1"/>
<text x="20.8" y="766.60" font-size="8.4" text-anchor="end" fill="#1a1a1a">0</text>
<line x1="21.6" y1="734.80" x2="23.8" y2="734.80" stroke="#444" stroke-width="1"/>
<text x="20.8" y="737.70" font-size="8.4" text-anchor="end" fill="#1a1a1a">1</text>
<line x1="21.6" y1="705.90" x2="23.8" y2="705.90" stroke="#444" stroke-width="1"/>
<text x="20.8" y="708.80" font-size="8.4" text-anchor="end" fill="#1a1a1a">2</text>
<line x1="21.6" y1="677.00" x2="23.8" y2="677.00" stroke="#444" stroke-width="1"/>
<text x="20.8" y="679.90" font-size="8.4" text-anchor="end" fill="#1a1a1a">3</text>
<line x1="21.6" y1="648.10" x2="23.8" y2="648.10" stroke="#444" stroke-width="1"/>
<text x="20.8" y="651.00" font-size="8.4" text-anchor="end" fill="#1a1a1a">4</text>
<line x1="22.5" y1="749.25" x2="23.8" y2="749.25" stroke="#444" stroke-width="1"/>
<line x1="22.5" y1="720.35" x2="23.8" y2="720.35" stroke="#444" stroke-width="1"/>
<line x1="22.5" y1="691.45" x2="23.8" y2="691.45" stroke="#444" stroke-width="1"/>
<line x1="22.5" y1="662.55" x2="23.8" y2="662.55" stroke="#444" stroke-width="1"/>
<text transform="translate(11.9,693.3) rotate(-90)" font-size="13.4" font-weight="bold" text-anchor="middle">Si (%)</text>
<rect x="213.4" y="658.30" width="22.5" height="11.2" fill="#FFCA94" stroke="#9a7a5a" stroke-width="0.8"/>
<text x="239.5" y="667.90" font-size="10.4" fill="#111">R-OPEFBF large</text>
<rect x="213.4" y="671.45" width="22.5" height="11.2" fill="#82D69C" stroke="#4c8a5e" stroke-width="0.8"/>
<text x="239.5" y="681.05" font-size="10.4" fill="#111">P-OPEFBF large</text>
<rect x="213.4" y="684.60" width="22.5" height="11.2" fill="#C8B3D8" stroke="#7d6e8c" stroke-width="0.8"/>
<text x="239.5" y="694.20" font-size="10.4" fill="#111">R-OPEFBF medium</text>
<rect x="213.4" y="697.75" width="22.5" height="11.2" fill="#FFFA92" stroke="#a39e5a" stroke-width="0.8"/>
<text x="239.5" y="707.35" font-size="10.4" fill="#111">P-OPEFBF medium</text>
<rect x="213.4" y="710.90" width="22.5" height="11.2" fill="#89BBF4" stroke="#557aa5" stroke-width="0.8"/>
<text x="239.5" y="720.50" font-size="10.4" fill="#111">R-OPEFBF small</text>
<rect x="213.4" y="724.05" width="22.5" height="11.2" fill="#FFB0F9" stroke="#a070a0" stroke-width="0.8"/>
<text x="239.5" y="733.65" font-size="10.4" fill="#111">P-OPEFBF small</text>
<line x1="354.5" y1="382.5" x2="354.5" y2="773.5" stroke="#555" stroke-width="1" stroke-dasharray="1.8,1.6"/>
<g id="xrd">
<rect x="377.6" y="382.8" width="161.89999999999998" height="219.40000000000003" fill="#fff" stroke="#707070" stroke-width="1.2"/>
<line x1="377.6" y1="455.9" x2="539.5" y2="455.9" stroke="#7a7a7a" stroke-width="1.1"/>
<line x1="377.6" y1="528.7" x2="539.5" y2="528.7" stroke="#7a7a7a" stroke-width="1.1"/>
<line x1="387.5" y1="454.3" x2="387.5" y2="455.9" stroke="#555" stroke-width="0.8"/>
<line x1="397.6" y1="454.9" x2="397.6" y2="455.9" stroke="#555" stroke-width="0.8"/>
<line x1="407.8" y1="454.3" x2="407.8" y2="455.9" stroke="#555" stroke-width="0.8"/>
<line x1="417.9" y1="454.9" x2="417.9" y2="455.9" stroke="#555" stroke-width="0.8"/>
<line x1="428.0" y1="454.3" x2="428.0" y2="455.9" stroke="#555" stroke-width="0.8"/>
<line x1="438.2" y1="454.9" x2="438.2" y2="455.9" stroke="#555" stroke-width="0.8"/>
<line x1="448.3" y1="454.3" x2="448.3" y2="455.9" stroke="#555" stroke-width="0.8"/>
<line x1="458.4" y1="454.9" x2="458.4" y2="455.9" stroke="#555" stroke-width="0.8"/>
<line x1="468.6" y1="454.3" x2="468.6" y2="455.9" stroke="#555" stroke-width="0.8"/>
<line x1="478.7" y1="454.9" x2="478.7" y2="455.9" stroke="#555" stroke-width="0.8"/>
<line x1="488.9" y1="454.3" x2="488.9" y2="455.9" stroke="#555" stroke-width="0.8"/>
<line x1="499.0" y1="454.9" x2="499.0" y2="455.9" stroke="#555" stroke-width="0.8"/>
<line x1="509.1" y1="454.3" x2="509.1" y2="455.9" stroke="#555" stroke-width="0.8"/>
<line x1="519.3" y1="454.9" x2="519.3" y2="455.9" stroke="#555" stroke-width="0.8"/>
<line x1="529.4" y1="454.3" x2="529.4" y2="455.9" stroke="#555" stroke-width="0.8"/>
<line x1="387.5" y1="527.1" x2="387.5" y2="528.7" stroke="#555" stroke-width="0.8"/>
<line x1="397.6" y1="527.7" x2="397.6" y2="528.7" stroke="#555" stroke-width="0.8"/>
<line x1="407.8" y1="527.1" x2="407.8" y2="528.7" stroke="#555" stroke-width="0.8"/>
<line x1="417.9" y1="527.7" x2="417.9" y2="528.7" stroke="#555" stroke-width="0.8"/>
<line x1="428.0" y1="527.1" x2="428.0" y2="528.7" stroke="#555" stroke-width="0.8"/>
<line x1="438.2" y1="527.7" x2="438.2" y2="528.7" stroke="#555" stroke-width="0.8"/>
<line x1="448.3" y1="527.1" x2="448.3" y2="528.7" stroke="#555" stroke-width="0.8"/>
<line x1="458.4" y1="527.7" x2="458.4" y2="528.7" stroke="#555" stroke-width="0.8"/>
<line x1="468.6" y1="527.1" x2="468.6" y2="528.7" stroke="#555" stroke-width="0.8"/>
<line x1="478.7" y1="527.7" x2="478.7" y2="528.7" stroke="#555" stroke-width="0.8"/>
<line x1="488.9" y1="527.1" x2="488.9" y2="528.7" stroke="#555" stroke-width="0.8"/>
<line x1="499.0" y1="527.7" x2="499.0" y2="528.7" stroke="#555" stroke-width="0.8"/>
<line x1="509.1" y1="527.1" x2="509.1" y2="528.7" stroke="#555" stroke-width="0.8"/>
<line x1="519.3" y1="527.7" x2="519.3" y2="528.7" stroke="#555" stroke-width="0.8"/>
<line x1="529.4" y1="527.1" x2="529.4" y2="528.7" stroke="#555" stroke-width="0.8"/>
<line x1="387.5" y1="600.6" x2="387.5" y2="602.2" stroke="#555" stroke-width="0.8"/>
<line x1="397.6" y1="601.2" x2="397.6" y2="602.2" stroke="#555" stroke-width="0.8"/>
<line x1="407.8" y1="600.6" x2="407.8" y2="602.2" stroke="#555" stroke-width="0.8"/>
<line x1="417.9" y1="601.2" x2="417.9" y2="602.2" stroke="#555" stroke-width="0.8"/>
<line x1="428.0" y1="600.6" x2="428.0" y2="602.2" stroke="#555" stroke-width="0.8"/>
<line x1="438.2" y1="601.2" x2="438.2" y2="602.2" stroke="#555" stroke-width="0.8"/>
<line x1="448.3" y1="600.6" x2="448.3" y2="602.2" stroke="#555" stroke-width="0.8"/>
<line x1="458.4" y1="601.2" x2="458.4" y2="602.2" stroke="#555" stroke-width="0.8"/>
<line x1="468.6" y1="600.6" x2="468.6" y2="602.2" stroke="#555" stroke-width="0.8"/>
<line x1="478.7" y1="601.2" x2="478.7" y2="602.2" stroke="#555" stroke-width="0.8"/>
<line x1="488.9" y1="600.6" x2="488.9" y2="602.2" stroke="#555" stroke-width="0.8"/>
<line x1="499.0" y1="601.2" x2="499.0" y2="602.2" stroke="#555" stroke-width="0.8"/>
<line x1="509.1" y1="600.6" x2="509.1" y2="602.2" stroke="#555" stroke-width="0.8"/>
<line x1="519.3" y1="601.2" x2="519.3" y2="602.2" stroke="#555" stroke-width="0.8"/>
<line x1="529.4" y1="600.6" x2="529.4" y2="602.2" stroke="#555" stroke-width="0.8"/>
<path d="M387.9,444.1 C388.6,444.3 390.2,445.1 392.0,445.5 C393.8,445.9 396.6,446.5 398.4,446.3 C400.2,446.1 401.4,445.2 403.0,444.5 C404.6,443.8 406.3,442.6 407.8,441.9 C409.3,441.1 410.4,440.7 412.0,440.0 C413.6,439.3 415.2,439.2 417.3,437.5 C419.4,435.8 422.1,432.2 424.5,429.5 C426.9,426.8 429.9,422.8 431.8,421.5 C433.7,420.2 434.4,421.3 436.0,421.5 C437.6,421.7 439.6,423.2 441.3,422.6 C443.0,422.0 444.9,420.3 446.4,417.9 C447.8,415.5 448.9,411.3 450.0,408.0 C451.1,404.7 452.1,400.8 453.0,398.0 C453.9,395.2 454.9,391.8 455.6,391.0 C456.4,390.2 456.8,390.7 457.5,393.0 C458.2,395.3 458.6,399.8 459.6,404.6 C460.6,409.4 462.3,417.7 463.5,421.6 C464.7,425.5 465.7,425.7 466.6,427.8 C467.5,429.9 468.0,431.8 469.0,434.0 C470.0,436.2 471.6,439.3 472.8,441.0 C474.0,442.7 474.7,443.2 476.0,444.0 C477.3,444.8 479.0,444.9 480.5,445.6 C482.0,446.4 483.4,447.6 485.0,448.5 C486.6,449.4 488.3,450.7 489.8,451.0 C491.3,451.3 492.6,450.7 494.0,450.5 C495.4,450.3 496.5,450.2 498.0,450.0 C499.5,449.8 501.3,449.6 503.0,449.5 C504.7,449.4 506.5,449.2 508.3,449.5 C510.1,449.8 512.0,450.8 514.0,451.5 C516.0,452.2 518.2,453.8 520.0,454.0 C521.8,454.2 523.5,452.9 525.0,452.5 C526.5,452.1 528.5,451.9 529.2,451.8" fill="none" stroke="#3f9a3f" stroke-width="1.3" stroke-linejoin="round"/>
<path d="M388.0,447.7 C389.0,448.0 391.8,448.9 394.0,449.5 C396.2,450.1 399.3,451.4 401.3,451.1 C403.3,450.9 404.6,448.9 406.0,448.0 C407.4,447.1 408.4,445.7 410.0,445.5 C411.6,445.3 413.8,447.8 415.5,447.0 C417.2,446.2 418.5,443.8 420.0,441.0 C421.5,438.2 423.1,432.0 424.3,430.3 C425.5,428.6 426.1,430.4 427.0,431.0 C427.9,431.6 428.4,434.4 429.6,433.9 C430.8,433.4 432.5,429.6 434.0,428.0 C435.5,426.4 437.2,424.7 438.4,424.5 C439.6,424.3 440.0,425.7 441.0,427.0 C442.0,428.3 443.2,432.3 444.2,432.5 C445.2,432.7 446.0,430.9 447.0,428.0 C448.0,425.1 449.0,419.7 450.0,415.0 C451.0,410.3 452.1,404.0 453.0,400.0 C453.9,396.0 454.9,392.2 455.6,391.0 C456.3,389.8 456.4,390.7 457.0,393.0 C457.6,395.3 458.3,400.8 459.0,405.0 C459.7,409.2 460.1,414.7 461.2,418.5 C462.3,422.3 464.3,424.2 465.8,427.8 C467.3,431.4 468.6,436.8 470.0,440.0 C471.4,443.2 473.1,445.9 474.3,447.1 C475.5,448.4 476.1,447.7 477.0,447.5 C477.9,447.3 478.9,446.4 480.0,446.0 C481.1,445.6 482.4,444.5 483.6,444.8 C484.8,445.1 485.6,446.8 487.0,448.0 C488.4,449.2 490.8,451.3 492.1,451.8 C493.4,452.3 493.9,451.4 495.0,451.0 C496.1,450.6 497.5,449.3 499.0,449.2 C500.5,449.1 502.5,450.4 504.0,450.5 C505.5,450.6 506.5,449.8 508.0,449.5 C509.5,449.2 511.5,448.4 513.0,448.7 C514.5,449.0 515.6,450.6 517.0,451.5 C518.4,452.4 520.2,453.8 521.5,454.0 C522.8,454.2 523.7,452.9 525.0,452.5 C526.3,452.1 528.5,451.7 529.2,451.5" fill="none" stroke="#3c3cf2" stroke-width="1.15" stroke-linejoin="round"/>
<path d="M388.2,522.6 C389.5,522.9 393.3,523.8 396.0,524.5 C398.7,525.2 401.9,526.9 404.2,526.6 C406.5,526.3 408.2,523.5 410.0,522.6 C411.8,521.7 412.8,522.3 415.0,521.0 C417.2,519.7 420.8,516.4 423.1,514.6 C425.4,512.8 426.7,512.7 428.9,510.3 C431.1,507.9 434.0,501.1 436.2,500.1 C438.4,499.1 440.4,503.3 442.0,504.5 C443.6,505.7 444.2,510.8 445.6,507.4 C447.1,504.0 449.1,490.1 450.7,484.0 C452.3,477.9 454.0,474.1 455.1,471.0 C456.2,467.9 456.7,466.1 457.3,465.2 C457.9,464.3 458.1,463.9 458.9,465.8 C459.7,467.7 460.9,471.2 462.0,476.6 C463.1,482.0 464.5,493.4 465.8,498.3 C467.1,503.2 468.5,503.6 469.7,506.0 C470.9,508.4 471.4,511.2 472.8,513.0 C474.2,514.8 476.7,516.4 478.2,516.8 C479.7,517.2 480.6,514.8 482.0,515.3 C483.4,515.8 484.9,518.5 486.7,520.0 C488.5,521.5 491.0,524.4 492.9,524.6 C494.8,524.9 496.4,521.9 498.3,521.5 C500.2,521.1 502.3,522.9 504.5,522.2 C506.7,521.6 509.3,517.5 511.4,517.6 C513.4,517.7 515.0,522.0 516.8,523.0 C518.6,524.0 520.5,524.4 522.2,523.8 C523.9,523.1 525.6,519.5 526.9,519.1 C528.2,518.7 529.5,521.1 530.0,521.5" fill="none" stroke="#3f9a3f" stroke-width="1.3" stroke-linejoin="round"/>
<path d="M388.2,524.1 C389.5,524.4 393.3,525.5 396.0,526.0 C398.7,526.5 402.2,527.6 404.2,527.3 C406.2,527.0 406.7,525.4 408.0,524.0 C409.3,522.6 410.6,518.9 412.2,519.0 C413.8,519.1 415.7,525.0 417.3,524.5 C418.9,524.0 420.3,519.1 422.0,516.0 C423.7,512.9 425.8,506.4 427.5,505.9 C429.2,505.4 431.1,512.9 432.5,512.9 C433.9,512.9 434.7,508.1 436.0,506.0 C437.3,503.9 438.8,499.9 440.5,500.4 C442.2,500.9 444.8,510.5 446.4,509.1 C448.0,507.7 448.8,497.9 450.0,492.0 C451.2,486.1 452.5,478.5 453.6,473.9 C454.7,469.3 455.8,465.6 456.5,464.3 C457.2,463.0 457.2,463.4 458.0,466.0 C458.8,468.6 460.1,474.6 461.2,479.7 C462.2,484.8 463.0,492.8 464.3,496.7 C465.6,500.6 467.5,500.3 468.9,502.9 C470.3,505.5 471.2,509.1 472.8,512.2 C474.4,515.3 476.8,520.4 478.2,521.5 C479.6,522.6 480.0,519.9 481.0,519.0 C482.0,518.1 483.2,515.8 484.4,516.0 C485.6,516.2 486.8,518.5 488.2,520.0 C489.6,521.5 491.2,525.0 492.9,525.3 C494.6,525.5 496.9,522.3 498.3,521.5 C499.7,520.7 499.7,520.5 501.0,520.7 C502.3,521.0 504.5,523.1 506.0,523.0 C507.5,522.9 508.7,520.8 510.0,520.0 C511.3,519.2 512.3,517.9 513.7,518.4 C515.1,518.9 516.6,521.8 518.4,523.0 C520.2,524.2 522.7,525.9 524.5,525.8 C526.3,525.7 528.4,522.8 529.2,522.2" fill="none" stroke="#3c3cf2" stroke-width="1.15" stroke-linejoin="round"/>
<path d="M388.2,592.7 C389.4,593.2 393.7,595.4 395.5,595.6 C397.3,595.8 397.7,594.6 399.0,594.0 C400.3,593.4 402.1,591.8 403.5,591.7 C404.9,591.6 405.5,593.8 407.1,593.2 C408.7,592.6 411.1,589.6 413.0,588.0 C414.9,586.4 416.8,584.8 418.7,583.3 C420.6,581.8 422.9,580.6 424.5,578.9 C426.1,577.2 426.7,575.1 428.0,573.0 C429.3,570.9 431.2,567.2 432.5,566.5 C433.8,565.8 434.9,568.2 436.0,569.0 C437.1,569.8 437.7,571.3 439.1,571.3 C440.5,571.2 442.6,570.8 444.2,568.7 C445.8,566.6 447.2,560.9 448.5,558.5 C449.8,556.1 451.1,557.1 452.2,554.2 C453.3,551.3 454.2,543.9 455.1,541.1 C456.0,538.3 456.7,537.5 457.3,537.3 C457.9,537.1 458.4,538.2 459.0,540.0 C459.6,541.8 460.3,543.9 461.2,548.1 C462.1,552.3 463.3,560.0 464.3,565.1 C465.3,570.2 466.1,575.1 467.4,579.0 C468.7,582.9 470.2,586.1 472.0,588.3 C473.8,590.5 475.9,590.4 478.2,592.1 C480.5,593.8 483.1,597.1 485.9,598.3 C488.7,599.5 492.6,598.8 495.2,599.1 C497.8,599.4 499.1,600.5 501.4,599.9 C503.7,599.3 506.3,595.7 509.1,595.7 C511.9,595.7 515.8,599.5 518.4,599.9 C521.0,600.3 522.8,598.8 524.5,598.3 C526.2,597.8 527.8,597.0 528.4,596.8" fill="none" stroke="#3f9a3f" stroke-width="1.3" stroke-linejoin="round"/>
<path d="M388.2,594.9 C388.8,595.2 390.7,596.3 392.0,597.0 C393.3,597.7 394.9,599.3 396.2,599.3 C397.5,599.3 398.6,597.9 400.0,597.0 C401.4,596.1 403.0,594.3 404.9,594.2 C406.8,594.1 409.6,596.9 411.5,596.4 C413.4,595.9 414.3,593.0 416.0,591.0 C417.7,589.0 420.2,585.5 421.6,584.7 C423.0,583.9 423.4,587.3 424.5,586.2 C425.6,585.1 426.7,581.0 428.0,578.0 C429.3,575.0 431.0,568.3 432.5,568.0 C434.0,567.7 435.6,573.8 436.9,576.0 C438.2,578.2 439.3,581.5 440.5,581.5 C441.7,581.5 442.9,579.8 444.2,576.0 C445.5,572.2 446.9,562.0 448.5,558.5 C450.1,555.0 452.4,556.2 453.6,554.9 C454.8,553.6 454.8,552.6 455.5,550.5 C456.2,548.4 457.1,544.3 458.0,542.0 C458.9,539.7 460.3,536.3 461.2,536.5 C462.1,536.7 462.7,540.0 463.5,543.0 C464.3,546.0 465.0,548.8 465.8,554.3 C466.6,559.8 467.1,570.2 468.1,575.9 C469.1,581.6 470.9,586.8 472.0,588.6 C473.1,590.5 474.0,587.7 475.0,587.0 C476.0,586.3 477.0,583.7 478.2,584.4 C479.4,585.1 480.7,588.8 482.0,591.0 C483.3,593.2 484.7,597.3 485.9,597.8 C487.1,598.3 488.0,595.1 489.0,594.0 C490.0,592.9 490.9,591.1 492.1,591.4 C493.3,591.7 494.7,594.6 496.0,596.0 C497.3,597.4 498.5,600.1 499.8,599.8 C501.1,599.5 502.6,596.0 504.0,594.0 C505.4,592.0 507.0,587.5 508.3,587.5 C509.6,587.5 510.7,592.0 512.0,594.0 C513.3,596.0 514.8,599.2 516.0,599.5 C517.2,599.8 518.3,597.3 519.5,596.0 C520.7,594.7 521.9,591.9 523.0,591.7 C524.1,591.5 525.0,593.9 526.0,595.0 C527.0,596.1 528.7,597.8 529.2,598.3" fill="none" stroke="#3c3cf2" stroke-width="1.15" stroke-linejoin="round"/>
<path d="M387.9,444.1 C388.6,444.3 390.2,445.1 392.0,445.5 C393.8,445.9 396.6,446.5 398.4,446.3 C400.2,446.1 401.4,445.2 403.0,444.5 C404.6,443.8 406.3,442.6 407.8,441.9 C409.3,441.1 410.4,440.7 412.0,440.0 C413.6,439.3 415.2,439.2 417.3,437.5 C419.4,435.8 422.1,432.2 424.5,429.5 C426.9,426.8 429.9,422.8 431.8,421.5 C433.7,420.2 434.4,421.3 436.0,421.5 C437.6,421.7 439.6,423.2 441.3,422.6 C443.0,422.0 444.9,420.3 446.4,417.9 C447.8,415.5 448.9,411.3 450.0,408.0 C451.1,404.7 452.1,400.8 453.0,398.0 C453.9,395.2 454.9,391.8 455.6,391.0 C456.4,390.2 456.8,390.7 457.5,393.0 C458.2,395.3 458.6,399.8 459.6,404.6 C460.6,409.4 462.3,417.7 463.5,421.6 C464.7,425.5 465.7,425.7 466.6,427.8 C467.5,429.9 468.0,431.8 469.0,434.0 C470.0,436.2 471.6,439.3 472.8,441.0 C474.0,442.7 474.7,443.2 476.0,444.0 C477.3,444.8 479.0,444.9 480.5,445.6 C482.0,446.4 483.4,447.6 485.0,448.5 C486.6,449.4 488.3,450.7 489.8,451.0 C491.3,451.3 492.6,450.7 494.0,450.5 C495.4,450.3 496.5,450.2 498.0,450.0 C499.5,449.8 501.3,449.6 503.0,449.5 C504.7,449.4 506.5,449.2 508.3,449.5 C510.1,449.8 512.0,450.8 514.0,451.5 C516.0,452.2 518.2,453.8 520.0,454.0 C521.8,454.2 523.5,452.9 525.0,452.5 C526.5,452.1 528.5,451.9 529.2,451.8" fill="none" stroke="#2f7f2f" stroke-width="1.1" stroke-dasharray="0.8,1.4" opacity="0.8"/>
<path d="M388.2,522.6 C389.5,522.9 393.3,523.8 396.0,524.5 C398.7,525.2 401.9,526.9 404.2,526.6 C406.5,526.3 408.2,523.5 410.0,522.6 C411.8,521.7 412.8,522.3 415.0,521.0 C417.2,519.7 420.8,516.4 423.1,514.6 C425.4,512.8 426.7,512.7 428.9,510.3 C431.1,507.9 434.0,501.1 436.2,500.1 C438.4,499.1 440.4,503.3 442.0,504.5 C443.6,505.7 444.2,510.8 445.6,507.4 C447.1,504.0 449.1,490.1 450.7,484.0 C452.3,477.9 454.0,474.1 455.1,471.0 C456.2,467.9 456.7,466.1 457.3,465.2 C457.9,464.3 458.1,463.9 458.9,465.8 C459.7,467.7 460.9,471.2 462.0,476.6 C463.1,482.0 464.5,493.4 465.8,498.3 C467.1,503.2 468.5,503.6 469.7,506.0 C470.9,508.4 471.4,511.2 472.8,513.0 C474.2,514.8 476.7,516.4 478.2,516.8 C479.7,517.2 480.6,514.8 482.0,515.3 C483.4,515.8 484.9,518.5 486.7,520.0 C488.5,521.5 491.0,524.4 492.9,524.6 C494.8,524.9 496.4,521.9 498.3,521.5 C500.2,521.1 502.3,522.9 504.5,522.2 C506.7,521.6 509.3,517.5 511.4,517.6 C513.4,517.7 515.0,522.0 516.8,523.0 C518.6,524.0 520.5,524.4 522.2,523.8 C523.9,523.1 525.6,519.5 526.9,519.1 C528.2,518.7 529.5,521.1 530.0,521.5" fill="none" stroke="#2f7f2f" stroke-width="1.1" stroke-dasharray="0.8,1.4" opacity="0.8"/>
<path d="M388.2,592.7 C389.4,593.2 393.7,595.4 395.5,595.6 C397.3,595.8 397.7,594.6 399.0,594.0 C400.3,593.4 402.1,591.8 403.5,591.7 C404.9,591.6 405.5,593.8 407.1,593.2 C408.7,592.6 411.1,589.6 413.0,588.0 C414.9,586.4 416.8,584.8 418.7,583.3 C420.6,581.8 422.9,580.6 424.5,578.9 C426.1,577.2 426.7,575.1 428.0,573.0 C429.3,570.9 431.2,567.2 432.5,566.5 C433.8,565.8 434.9,568.2 436.0,569.0 C437.1,569.8 437.7,571.3 439.1,571.3 C440.5,571.2 442.6,570.8 444.2,568.7 C445.8,566.6 447.2,560.9 448.5,558.5 C449.8,556.1 451.1,557.1 452.2,554.2 C453.3,551.3 454.2,543.9 455.1,541.1 C456.0,538.3 456.7,537.5 457.3,537.3 C457.9,537.1 458.4,538.2 459.0,540.0 C459.6,541.8 460.3,543.9 461.2,548.1 C462.1,552.3 463.3,560.0 464.3,565.1 C465.3,570.2 466.1,575.1 467.4,579.0 C468.7,582.9 470.2,586.1 472.0,588.3 C473.8,590.5 475.9,590.4 478.2,592.1 C480.5,593.8 483.1,597.1 485.9,598.3 C488.7,599.5 492.6,598.8 495.2,599.1 C497.8,599.4 499.1,600.5 501.4,599.9 C503.7,599.3 506.3,595.7 509.1,595.7 C511.9,595.7 515.8,599.5 518.4,599.9 C521.0,600.3 522.8,598.8 524.5,598.3 C526.2,597.8 527.8,597.0 528.4,596.8" fill="none" stroke="#2f7f2f" stroke-width="1.1" stroke-dasharray="0.8,1.4" opacity="0.8"/>
<path d="M499.0,521.5 L499.4,489.3 L499.8,521" fill="none" stroke="#4646f0" stroke-width="0.7"/>
<text x="483.6" y="396.6" font-size="8.3" textLength="47.4" lengthAdjust="spacingAndGlyphs" stroke="#000" stroke-width="0.18">Small OPEFB</text>
<text x="479.0" y="469.7" font-size="8.3" textLength="56.4" lengthAdjust="spacingAndGlyphs" stroke="#000" stroke-width="0.18">Medium OPEFB</text>
<text x="482.8" y="543.1" font-size="8.3" textLength="47.9" lengthAdjust="spacingAndGlyphs" stroke="#000" stroke-width="0.18">Large OPEFB</text>
<text x="387.5" y="610.7" font-size="8.3" text-anchor="middle" fill="#1a1a1a">5</text>
<text x="407.8" y="610.7" font-size="8.3" text-anchor="middle" fill="#1a1a1a">10</text>
<text x="428.0" y="610.7" font-size="8.3" text-anchor="middle" fill="#1a1a1a">15</text>
<text x="448.3" y="610.7" font-size="8.3" text-anchor="middle" fill="#1a1a1a">20</text>
<text x="468.6" y="610.7" font-size="8.3" text-anchor="middle" fill="#1a1a1a">25</text>
<text x="488.9" y="610.7" font-size="8.3" text-anchor="middle" fill="#1a1a1a">30</text>
<text x="509.1" y="610.7" font-size="8.3" text-anchor="middle" fill="#1a1a1a">35</text>
<text x="529.4" y="610.7" font-size="8.3" text-anchor="middle" fill="#1a1a1a">40</text>
<text x="456.2" y="622.5" font-size="11" font-weight="bold" text-anchor="middle">2 θ</text>
<line x1="369.7" y1="390" x2="369.1" y2="463" stroke="#dadada" stroke-width="1.5"/>
<line x1="368.6" y1="510" x2="367.9" y2="599" stroke="#dadada" stroke-width="1.5"/>
<ellipse cx="369.7" cy="390.3" rx="1.0" ry="1.5" fill="#222"/>
<ellipse cx="367.9" cy="599.6" rx="1.0" ry="1.5" fill="#222"/>
<text transform="translate(371.2,486.2) rotate(-90)" font-size="11" font-weight="bold" text-anchor="middle" textLength="39" lengthAdjust="spacingAndGlyphs">Intensity</text>
</g>
<g id="table">
<text x="413.4" y="639.2" font-size="12.2" font-weight="bold" textLength="97.2" lengthAdjust="spacingAndGlyphs">Crystallinity index</text>
<rect x="373.4" y="642.8" width="172.0" height="109.0" fill="none" stroke="#666" stroke-width="1.1"/>
<line x1="373.4" y1="658.2" x2="545.4" y2="658.2" stroke="#666" stroke-width="1"/>
<line x1="373.4" y1="673.2" x2="545.4" y2="673.2" stroke="#666" stroke-width="1"/>
<line x1="373.4" y1="688.4" x2="545.4" y2="688.4" stroke="#666" stroke-width="1"/>
<line x1="373.4" y1="704.5" x2="545.4" y2="704.5" stroke="#666" stroke-width="1"/>
<line x1="373.4" y1="720.1" x2="545.4" y2="720.1" stroke="#666" stroke-width="1"/>
<line x1="373.4" y1="736.4" x2="545.4" y2="736.4" stroke="#666" stroke-width="1"/>
<line x1="467.0" y1="642.8" x2="467.0" y2="751.8" stroke="#666" stroke-width="1"/>
<text x="403.8" y="655.2" font-size="10.5" font-weight="bold" textLength="24.2" lengthAdjust="spacingAndGlyphs">Fiber</text>
<text x="481.8" y="654.6" font-size="10.7" font-weight="bold" textLength="46.4" lengthAdjust="spacingAndGlyphs">Index (%)</text>
<text x="378" y="669.9" font-size="11" fill="#111">R-OPEFB Large</text>
<text x="506.5" y="669.9" font-size="11" text-anchor="middle" fill="#111">44.2</text>
<text x="378" y="685.0" font-size="11" fill="#111">P-OPEFB Large</text>
<text x="506.5" y="685.0" font-size="11" text-anchor="middle" fill="#111">35.9</text>
<text x="378" y="700.7" font-size="11" fill="#111">R-OPEFB Medium</text>
<text x="506.5" y="700.7" font-size="11" text-anchor="middle" fill="#111">44.7</text>
<text x="378" y="716.5" font-size="11" fill="#111">P-OPEFB Medium</text>
<text x="506.5" y="716.5" font-size="11" text-anchor="middle" fill="#111">45.1</text>
<text x="378" y="732.5" font-size="11" fill="#111">R-OPEFB Small</text>
<text x="506.5" y="732.5" font-size="11" text-anchor="middle" fill="#111">41.8</text>
<text x="378" y="748.3" font-size="11" fill="#111">P-OPEFB Small</text>
<text x="506.5" y="748.3" font-size="11" text-anchor="middle" fill="#111">34.5</text>
</g>
</svg>
</body></html>
